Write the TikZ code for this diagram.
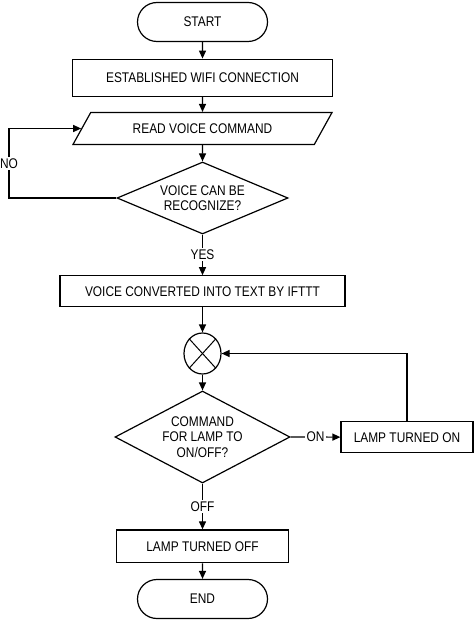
\documentclass[tikz,border=0pt]{standalone}
\usepackage{fontspec}
\setmainfont[FakeStretch=0.85]{Liberation Sans}
\usetikzlibrary{shapes.geometric,shapes.misc,arrows.meta}

\begin{document}
\begin{tikzpicture}[x=1pt, y=-1pt,
  every node/.style={font=\fontsize{14}{15.5}\selectfont, inner sep=0pt},
  box/.style={draw, line width=1.2pt, rectangle, minimum height=31pt},
  term/.style={draw, line width=1.2pt, rounded rectangle, minimum width=130pt, minimum height=39pt},
  io/.style={draw, line width=1.2pt, trapezium, trapezium left angle=61, trapezium right angle=119,
    trapezium stretches body, minimum width=259pt, inner ysep=11pt},
  decide/.style={draw, line width=1.2pt, diamond, align=center},
  flow/.style={line width=1.2pt, -{Triangle[length=8pt,width=7pt]}},
  lbl/.style={fill=white, inner sep=1.5pt}]
\useasboundingbox (0,0) rectangle (474,620);
\def\cx{202.5}

\node[term] (start) at (\cx, 22) {START};
\node[box, minimum width=260pt, minimum height=37pt] (wifi) at (\cx, 77.7) {ESTABLISHED WIFI CONNECTION};
\node[io] (read) at (\cx, 128.5) {READ VOICE COMMAND};
\node[decide, shape aspect=2.37, minimum width=171pt, minimum height=72pt] (voice) at (\cx, 198) {VOICE CAN BE\\RECOGNIZE?};
\node[box, minimum width=285pt] (ifttt) at (\cx, 291.3) {VOICE CONVERTED INTO TEXT BY IFTTT};
\node[draw, line width=1.2pt, ellipse, minimum width=37pt, minimum height=41pt] (mix) at (\cx, 353.5) {};
\node[decide, shape aspect=1.9, minimum width=175pt, minimum height=92pt] (lamp) at (\cx, 437) {COMMAND\\FOR LAMP TO\\ON/OFF?};
\node[box, minimum width=132pt] (lampon) at (407, 437.3) {LAMP TURNED ON};
\node[box, minimum width=172pt, minimum height=32.7pt] (lampoff) at (\cx, 546.3) {LAMP TURNED OFF};
\node[term] (end) at (\cx, 599) {END};
\coordinate (nocorner) at (9, 198);

\draw[line width=1pt] (mix.north west) -- (mix.south east);
\draw[line width=1pt] (mix.north east) -- (mix.south west);

\draw[flow] (start) -- (wifi);
\draw[flow] (wifi) -- (read);
\draw[flow] (read) -- (voice);
\draw[flow] (voice.west) -- (nocorner) |- node[lbl, pos=0.25] {NO} (read.west);
\draw[flow] (voice) -- node[lbl] {YES} (ifttt);
\draw[flow] (ifttt) -- (mix);
\draw[flow] (mix) -- (lamp);
\draw[flow] (lamp.east) -- node[lbl] {ON} (lampon);
\draw[flow] (lampon.north) |- (mix.east);
\draw[flow] (lamp) -- node[lbl] {OFF} (lampoff);
\draw[flow] (lampoff) -- (end);
\end{tikzpicture}
\end{document}
